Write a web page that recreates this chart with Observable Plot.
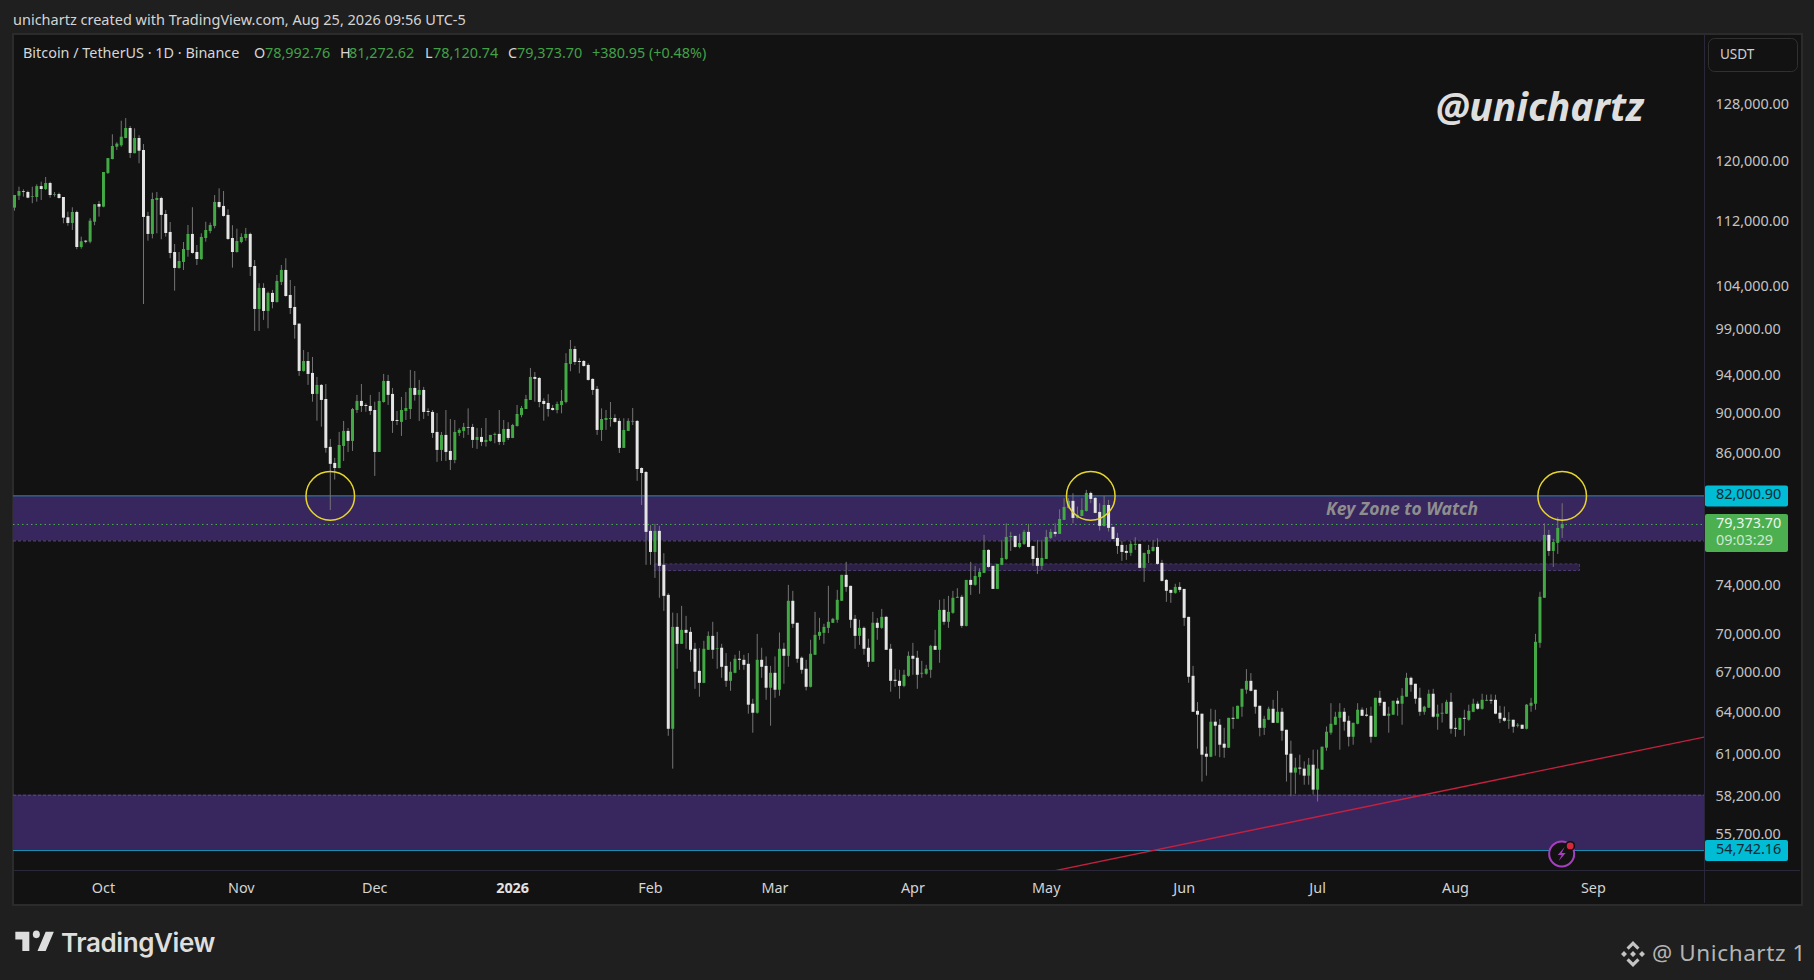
<!DOCTYPE html>
<html><head><meta charset="utf-8">
<script src="https://cdn.jsdelivr.net/npm/d3@7"></script>
<script src="https://cdn.jsdelivr.net/npm/@observablehq/plot@0.6"></script>
<style>
html,body{margin:0;padding:0;background:#1f1f1f;width:1814px;height:980px;overflow:hidden}
body{position:relative;font-family:"Noto Sans",sans-serif}
#panel{position:absolute;left:12px;top:33px;width:1787px;height:869px;background:#121212;border:2px solid #2b2b2b}
#chart{position:absolute;left:0;top:0}
.t{position:absolute;white-space:nowrap;line-height:1}
.leg{font-size:14.4px;color:#d6d6d6;top:46px}
.g{color:#43a047}
</style></head><body>
<div id="panel"></div>
<div class="t" style="left:13px;top:12px;font-size:14.5px;color:#d4d4d4">unichartz created with TradingView.com, Aug 25, 2026 09:56 UTC-5</div>
<div class="t leg" style="left:23px">Bitcoin / TetherUS · 1D · Binance</div>
<div class="t leg" style="left:254px">O</div><div class="t leg g" style="left:265px">78,992.76</div>
<div class="t leg" style="left:340px">H</div><div class="t leg g" style="left:349px">81,272.62</div>
<div class="t leg" style="left:425px">L</div><div class="t leg g" style="left:433px">78,120.74</div>
<div class="t leg" style="left:508px">C</div><div class="t leg g" style="left:517px">79,373.70</div>
<div class="t leg g" style="left:592px">+380.95 (+0.48%)</div>
<div id="chart"></div>
<svg style="position:absolute;left:13px;top:924px" width="42" height="36" viewBox="0 0 36 28" preserveAspectRatio="none"><path fill="#dedede" d="M14 6H2v6h6v9h6V6Zm14 15h-7l7-15h7l-7 15Z"/><circle fill="#dedede" cx="20" cy="8" r="3"/></svg>
<div class="t" style="left:61px;top:930px;font-family:Inter,sans-serif;font-weight:600;font-size:26px;letter-spacing:-0.4px;color:#dedede">TradingView</div>
<svg style="position:absolute;left:1619px;top:940px" width="28" height="28" viewBox="0 0 28 28" fill="#c4c4c4"><path d="M14 11l3 3-3 3-3-3zM5 11l3 3-3 3-3-3zM23 11l3 3-3 3-3-3zM14 1l6.5 6.5-2.2 2.2L14 5.4 9.7 9.700l-2.200-2.200zM14 27l-6.500-6.500 2.200-2.200L14 22.600l4.300-4.300 2.200 2.200z"/></svg>
<div class="t" style="left:1652px;top:942px;font-size:22.5px;letter-spacing:0.6px;color:#b4b4b4">@ Unichartz 1</div>
<script>
const startDay = Date.UTC(2025, 8, 11);
const day = 86400000;
const opens = [113.82,115.38,116.0,115.87,115.21,115.21,116.65,116.26,117.06,115.51,
115.6,115.21,112.58,111.85,113.26,108.83,109.61,109.49,112.01,114.3,
113.95,118.41,120.3,122.0,122.2,123.22,124.63,121.1,123.22,121.55,
112.75,110.46,114.82,115.08,113.0,110.71,108.21,106.26,106.99,108.46,
110.46,108.21,107.35,109.95,110.83,111.47,114.56,114.04,112.88,109.95,
108.21,109.45,109.95,110.46,106.5,101.41,103.87,101.18,103.28,102.22,
104.58,106.02,103.04,101.64,99.73,94.49,95.57,94.28,92.05,93.0,
91.52,86.66,85.09,84.6,86.75,88.25,87.25,90.38,91.32,90.9,
90.8,90.38,86.16,91.21,93.42,92.05,89.36,89.16,90.28,90.48,
92.68,91.95,92.47,90.28,90.18,88.15,86.36,87.85,86.26,85.38,
88.05,88.25,88.65,88.65,87.35,87.65,87.15,87.25,87.85,87.95,
87.15,88.45,87.55,88.75,89.87,90.48,91.42,93.85,93.74,91.32,
91.11,90.59,90.38,90.9,91.21,95.25,96.89,95.57,95.57,95.14,
93.64,92.58,88.35,89.36,89.46,89.56,89.26,86.56,88.25,89.19,
89.26,84.6,84.22,78.75,76.88,78.75,75.76,73.21,62.85,70.59,
69.24,70.35,70.19,68.85,67.14,66.23,68.77,69.87,68.85,68.93,
67.52,66.38,66.99,68.07,67.99,67.68,64.67,64.01,67.99,67.52,
65.86,66.99,65.71,68.85,68.3,72.72,70.92,68.15,67.3,65.93,
68.38,69.87,70.11,70.51,70.92,71.16,72.72,74.9,73.97,71.24,
69.87,70.51,68.93,67.84,70.92,70.51,71.4,68.85,66.46,66.38,
66.0,66.76,68.3,68.15,66.92,66.92,67.22,69.08,68.77,71.97,
71.0,71.73,72.97,73.05,70.67,74.47,74.05,74.72,75.07,77.06,
75.67,73.71,75.76,76.27,78.21,78.3,77.32,77.59,78.66,77.41,
76.36,75.67,76.27,78.12,78.66,78.48,79.74,80.84,81.49,79.92,
80.1,80.56,82.23,81.77,80.47,79.2,81.11,79.11,78.12,77.5,
76.97,76.8,77.5,77.59,75.5,76.71,76.97,77.32,75.93,74.47,
73.63,73.38,73.88,73.71,71.4,66.76,64.15,63.94,61.09,60.88,
63.36,63.14,61.79,61.51,63.64,63.57,64.45,65.71,66.38,65.71,
64.52,62.92,63.5,64.3,63.28,64.08,62.78,61.09,59.79,60.13,
60.06,59.58,60.33,58.64,59.99,61.51,62.57,63.14,63.64,64.08,
63.43,62.28,63.21,64.23,63.87,63.79,62.28,65.11,64.81,63.79,
63.87,64.89,64.67,65.19,66.61,66.16,65.11,64.08,64.38,65.41,
63.72,63.94,63.94,64.81,62.92,62.78,63.64,63.5,64.08,64.67,
64.3,64.89,64.96,64.96,64.01,63.64,63.43,63.5,63.07,63.14,
62.85,64.52,64.67,69.32,72.97,78.39,76.97,77.68,78.99];
const highs = [115.47,116.57,116.22,116.04,116.57,116.88,117.24,117.87,117.24,115.87,
115.78,115.21,113.3,113.87,113.43,110.12,109.7,112.45,114.26,114.69,
118.54,120.44,123.74,122.62,125.67,126.05,124.92,124.59,123.6,122.38,
113.28,115.78,115.87,115.25,113.52,111.97,109.2,108.21,109.45,111.59,
113.87,109.08,110.54,112.01,111.9,115.47,116.35,116.0,113.61,111.56,
111.12,110.54,111.22,110.62,107.23,104.43,104.43,103.43,103.63,105.42,
106.62,107.44,104.82,104.1,99.73,96.78,96.56,96.01,93.85,93.1,
93.1,87.45,85.58,88.15,89.26,88.55,90.59,91.95,93.1,91.07,
91.95,91.24,92.26,94.17,94.07,92.68,90.28,91.73,92.26,94.6,
94.49,93.53,92.79,90.55,90.38,90.07,88.15,90.38,89.46,89.36,
88.52,89.06,90.55,88.96,88.55,88.55,89.56,87.85,88.08,90.38,
89.36,89.13,88.96,90.9,90.8,91.95,94.82,94.38,93.85,91.59,
92.02,90.9,91.24,92.47,96.42,97.89,97.22,95.86,95.68,95.32,
93.7,92.89,90.55,90.38,91.21,89.94,89.53,89.53,89.53,90.59,
89.36,84.67,84.29,79.29,79.38,79.2,76.77,73.35,71.75,71.7,
72.3,71.48,70.57,69.32,68.9,69.48,70.22,71.0,70.19,69.24,
68.51,67.84,68.38,68.69,68.38,68.51,65.04,70.03,68.93,68.25,
67.52,68.25,70.14,69.32,74.05,73.55,70.92,68.25,67.99,69.56,
71.81,71.32,70.84,73.97,71.32,73.63,74.9,76.02,73.97,71.56,
71.16,70.62,69.64,71.81,71.3,72.05,71.48,69.24,67.3,67.22,
67.22,68.64,69.32,68.69,67.91,67.6,69.16,70.35,72.8,72.88,
73.13,73.55,73.77,73.21,74.47,76.02,75.67,75.47,78.39,77.12,
75.67,75.84,77.94,79.43,78.66,78.3,78.48,78.84,79.38,77.41,
77.94,77.94,78.84,78.93,79.43,80.71,81.74,81.74,82.2,80.96,
81.74,82.51,82.35,81.83,81.27,81.95,81.58,79.11,78.57,77.88,
77.5,77.85,78.18,77.59,76.8,77.5,77.94,78.09,76.19,74.55,
73.63,74.14,74.28,73.71,71.4,67.52,64.79,63.94,61.58,64.3,
64.23,63.55,62.92,63.64,64.45,64.52,65.78,67.27,66.97,65.71,
64.52,63.79,64.45,64.96,65.63,64.36,62.78,62.0,60.81,61.02,
60.56,60.79,61.37,61.37,61.58,63.02,64.71,64.08,64.71,64.36,
63.79,63.28,64.71,64.4,64.36,64.45,65.11,65.63,64.81,64.45,
64.89,65.11,65.83,66.99,66.7,66.16,65.86,64.52,65.71,65.78,
64.6,64.71,64.96,65.48,63.62,63.64,64.23,64.6,65.04,64.84,
65.41,65.34,65.36,65.34,64.52,64.47,64.05,63.5,63.26,63.14,
64.65,65.11,70.03,73.47,79.43,78.84,78.03,79.98,81.27];
const lows = [113.43,114.82,115.25,115.04,114.39,114.6,114.82,116.13,115.12,115.25,
114.99,111.81,111.5,110.96,108.55,108.62,109.29,109.29,111.56,112.66,
113.87,118.27,120.26,121.55,122.0,123.18,120.44,121.1,119.72,101.98,
109.61,109.9,110.54,109.79,110.12,107.44,103.55,106.18,106.02,107.63,
108.0,106.62,107.23,109.49,110.54,111.17,113.74,112.66,109.7,106.3,
108.13,109.29,109.61,105.3,98.9,98.9,100.15,99.2,101.48,102.14,
104.22,102.84,100.83,98.03,93.96,94.42,93.0,91.24,89.29,88.68,
86.09,80.65,83.49,84.57,85.28,86.16,86.26,90.07,90.18,90.2,
89.87,83.84,86.16,91.14,90.9,88.05,88.85,87.75,89.36,89.46,
91.35,89.26,89.46,89.77,87.55,85.19,85.28,85.28,84.41,85.06,
87.75,87.55,87.85,86.56,86.46,86.75,86.69,87.18,87.02,86.85,
86.85,87.35,87.52,88.68,89.63,90.48,91.42,91.24,90.66,89.29,
89.7,90.31,90.04,90.04,91.07,94.46,95.14,94.24,94.96,93.46,
91.95,87.85,87.25,88.35,88.68,89.09,86.06,86.56,88.25,88.85,
83.37,81.11,75.76,75.76,74.64,72.97,71.89,62.35,60.06,67.3,
69.24,68.85,67.84,65.78,65.19,66.2,68.77,68.07,67.3,66.61,
65.93,65.63,66.95,67.22,67.22,63.94,62.57,63.94,66.61,64.96,
63.07,65.11,65.26,66.16,67.45,70.51,67.76,66.92,65.66,65.88,
68.38,69.56,69.24,70.09,70.9,70.92,72.72,73.47,70.51,68.85,
69.16,68.38,67.43,67.84,69.56,70.43,68.77,65.56,65.93,65.04,
65.9,66.68,66.84,65.78,66.61,66.84,66.61,68.77,67.76,70.76,
70.51,71.65,72.95,70.51,70.62,73.21,73.97,73.3,75.05,75.5,
73.71,73.71,75.73,76.19,76.97,77.26,77.2,77.5,77.29,75.67,
74.98,75.33,76.27,78.03,78.24,78.48,79.74,80.78,79.43,79.86,
80.1,80.5,81.27,80.35,78.78,79.14,78.69,78.0,76.71,76.1,
76.19,76.54,77.06,75.47,74.3,75.91,76.91,75.76,74.33,72.63,
72.55,73.3,73.44,70.67,66.23,64.08,61.44,59.18,59.58,60.85,
60.95,60.85,60.81,61.49,62.85,63.57,63.72,65.41,65.58,63.94,
62.31,62.41,63.47,63.26,63.26,62.0,59.18,58.2,58.36,59.65,
58.97,58.97,58.31,57.85,59.99,61.3,62.43,63.12,61.37,62.71,
61.6,61.72,63.17,63.77,63.72,61.86,62.26,64.52,63.79,62.57,
63.85,63.79,63.14,65.19,65.56,64.67,63.79,63.87,64.36,63.64,
62.78,63.3,63.92,62.5,62.28,62.76,62.35,63.43,64.05,64.23,
64.23,64.86,64.67,63.9,63.26,63.35,62.85,62.57,62.95,62.85,
62.8,64.08,64.23,68.93,72.97,76.54,75.58,76.71,78.12];
const closes = [115.47,116.0,115.91,115.12,115.3,116.65,116.26,117.06,115.47,115.6,
115.08,112.53,111.85,113.26,108.83,109.54,109.49,112.14,114.26,113.95,
118.54,120.44,122.1,122.43,123.4,124.63,121.14,123.22,121.45,112.62,
110.46,114.95,115.08,112.88,110.58,108.09,106.26,107.11,108.58,110.46,
108.09,107.35,110.08,110.96,111.59,114.56,113.91,112.75,109.83,108.21,
109.58,110.08,110.46,106.38,101.41,103.87,101.18,103.28,102.22,104.7,
106.02,102.92,101.52,99.58,94.49,95.57,94.17,92.05,93.0,91.42,
86.56,85.0,84.6,86.85,88.25,87.25,90.48,91.32,90.8,90.8,
90.28,86.16,91.32,93.42,91.95,89.26,89.26,90.38,90.59,92.68,
91.95,92.47,90.18,90.18,88.05,86.36,87.85,86.16,85.38,88.15,
88.35,88.65,88.58,87.35,87.65,87.15,87.35,87.85,87.95,87.15,
88.45,87.55,88.85,89.97,90.59,91.52,93.85,93.64,91.21,91.0,
90.48,90.38,91.0,91.32,95.35,96.89,95.46,95.46,95.03,93.53,
92.47,88.35,89.46,89.56,89.56,89.16,86.56,88.35,89.26,89.26,
84.5,84.12,78.66,76.88,78.75,75.67,73.13,62.85,70.59,69.24,
70.35,70.11,68.77,67.07,66.23,68.85,69.87,68.77,68.9,67.45,
66.38,67.07,68.07,67.99,67.6,64.6,64.01,67.99,67.45,65.86,
66.99,65.71,68.85,68.3,72.72,70.84,68.07,67.22,65.93,68.46,
69.95,70.19,70.59,71.0,71.24,72.8,74.9,73.88,71.16,69.87,
70.51,68.85,67.84,70.92,70.51,71.4,68.77,66.38,66.38,66.0,
66.84,68.3,68.07,66.84,66.99,67.3,69.08,68.77,71.97,71.0,
71.81,72.97,73.05,70.67,74.47,74.05,74.81,75.16,77.06,75.58,
73.71,75.84,76.36,78.21,78.3,77.32,77.68,78.66,77.32,76.27,
75.67,76.36,78.21,78.66,78.48,79.83,80.93,81.49,79.92,80.2,
80.65,82.23,81.67,80.38,79.2,81.11,79.02,78.03,77.41,76.88,
76.8,77.59,77.59,75.5,76.8,77.06,77.32,75.84,74.39,73.55,
73.38,73.88,73.63,71.32,66.69,64.08,63.87,61.02,60.88,63.36,
63.07,61.72,61.51,63.64,63.57,64.52,65.78,66.38,65.63,64.45,
62.92,63.57,64.3,63.28,64.08,62.71,61.02,59.79,60.13,60.06,
59.58,60.33,58.64,60.06,61.58,62.64,63.21,63.72,64.08,63.36,
62.28,63.28,64.23,63.79,63.79,62.28,65.11,64.74,63.79,63.94,
64.89,64.67,65.26,66.61,66.08,65.04,64.08,64.45,65.41,63.72,
63.94,64.01,64.81,62.85,62.85,63.64,63.57,64.15,64.67,64.3,
64.96,64.96,64.89,63.94,63.57,63.43,63.5,63.0,63.14,62.85,
64.6,64.74,69.4,73.05,78.39,76.97,77.76,79.02,79.37];

const priceTicks = [128000,120000,112000,104000,99000,94000,90000,86000,74000,70000,67000,64000,61000,58200,55700];
const monthTicks = ["2025-10-01","2025-11-01","2025-12-01","2026-02-01","2026-03-01","2026-04-01","2026-05-01","2026-06-01","2026-07-01","2026-08-01","2026-09-01"];
const monthNames = ["Oct","Nov","Dec","Feb","Mar","Apr","May","Jun","Jul","Aug","Sep"];
const upperZone = [77900, 82000.9];
const lowerZone = [54742.16, 58300];
const thinZone = [75270, 75840];
const thinZoneDates = ["2026-02-02","2026-08-29"];
const lastPrice = 79373.70;
const circleDates = ["2025-11-21","2026-05-11","2026-08-25"];
const circlePrice = 82000.9;
const trendDates = ["2026-05-03","2026-09-26"];
const trendPrices = [53500, 62300];
const domainX = [new Date(startDay - 0.23*day), new Date("2026-09-26")];
const domainY = [53508, 138724];

const candles = opens.map((o,i)=>({date:new Date(startDay+i*day),o:o*1000,h:highs[i]*1000,l:lows[i]*1000,c:closes[i]*1000,up:closes[i]>=o}));
const FONT = '"Noto Sans",sans-serif';
const zoneFill = "#38265e", edgeBlue = "#2a86a6", edgePurple = "#5c4a86";

function tags(index, {y}) {
  const g = d3.create("svg:g").style("font-family", FONT).style("text-anchor","start");
  const tag = (price, h, fill, lines) => {
    const yc = y(price);
    g.append("rect").attr("x",1705).attr("y",yc-h[0]).attr("width",83).attr("height",h[1]).attr("rx",2).attr("fill",fill);
    lines.forEach(l => g.append("text").attr("x",1716).attr("y",yc+l.dy).attr("dominant-baseline","middle")
      .attr("font-size",14.4).attr("fill",l.color).text(l.text));
  };
  tag(82000.9,[10,21],"#00bcd4",[{text:"82,000.90",dy:0,color:"#0c2a33"}]);
  tag(54742.16,[10,21],"#00bcd4",[{text:"54,742.16",dy:0,color:"#0c2a33"}]);
  tag(lastPrice,[10,38],"#4caf50",[{text:"79,373.70",dy:0,color:"#eef6ee"},{text:"09:03:29",dy:17,color:"#cfe8cf"}]);
  g.append("rect").attr("x",1708.5).attr("y",38.5).attr("width",89).attr("height",33).attr("rx",6).attr("fill","#121212").attr("stroke","#303030");
  g.append("text").attr("x",1720).attr("y",55).attr("dominant-baseline","middle").attr("font-size",13.5).attr("fill","#d0d0d0").text("USDT");
  g.append("line").attr("x1",1704.5).attr("x2",1704.5).attr("y1",34).attr("y2",903).attr("stroke","#2a2738");
  g.append("line").attr("x1",13).attr("x2",1800).attr("y1",870.5).attr("y2",870.5).attr("stroke","#2a2738");
  return g.node();
}
function alertIcon(index, {x,y}) {
  const cx = x(new Date(circleDates[2])), cy = y(54500);
  const g = d3.create("svg:g").attr("transform",`translate(${cx},${cy})`);
  g.append("circle").attr("r",12.5).attr("fill","#121212").attr("stroke","#a63fbf").attr("stroke-width",2);
  g.append("path").attr("d","M3-7 L-4 1 L0 1 L-3 7 L4-1 L0-1 Z").attr("fill","#a63fbf");
  g.append("circle").attr("cx",8.5).attr("cy",-8).attr("r",5).attr("fill","#121212");
  g.append("circle").attr("cx",8.5).attr("cy",-8).attr("r",3.4).attr("fill","#d8283f");
  return g.node();
}

const chart = Plot.plot({
  width:1814, height:980, marginLeft:13, marginRight:110, marginTop:34, marginBottom:110,
  style:{background:"transparent", fontFamily:FONT},
  x:{type:"utc", domain:domainX, axis:null},
  y:{type:"log", domain:domainY, axis:null},
  marks:[
    Plot.rectY([0],{x1:()=>domainX[0],x2:()=>domainX[1],y1:()=>upperZone[0],y2:()=>upperZone[1],fill:zoneFill}),
    Plot.rectY([0],{x1:()=>domainX[0],x2:()=>domainX[1],y1:()=>lowerZone[0],y2:()=>lowerZone[1],fill:zoneFill}),
    Plot.rectY([0],{x1:()=>new Date(thinZoneDates[0]),x2:()=>new Date(thinZoneDates[1]),y1:()=>thinZone[0],y2:()=>thinZone[1],fill:"#2c2044",stroke:"#4a3a70",strokeWidth:1,strokeDasharray:"3 2"}),
    Plot.ruleY([upperZone[1]],{stroke:edgeBlue}),
    Plot.ruleY([upperZone[0]],{stroke:edgePurple,strokeDasharray:"3 2"}),
    Plot.ruleY([lowerZone[1]],{stroke:edgePurple,strokeDasharray:"3 2"}),
    Plot.ruleY([lowerZone[0]],{stroke:"#1c8fb0"}),
    Plot.ruleY([lastPrice],{stroke:"#4caf50",strokeDasharray:"1.5 3"}),
    Plot.ruleX(candles,{x:"date",y1:"l",y2:"h",stroke:"#747474",strokeWidth:1}),
    Plot.ruleX(candles,{filter:d=>d.up,x:"date",y1:"o",y2:"c",stroke:"#43a945",strokeWidth:3}),
    Plot.ruleX(candles,{filter:d=>!d.up,x:"date",y1:"o",y2:"c",stroke:"#e4e4e4",strokeWidth:3}),
    Plot.line(trendDates.map((d,i)=>({d:new Date(d),p:trendPrices[i]})),{x:"d",y:"p",stroke:"#c4213f",strokeWidth:1.4,clip:true}),
    Plot.dot(circleDates.map(d=>({d:new Date(d)})),{x:"d",y:()=>circlePrice,r:24.3,stroke:"#e6d62c",strokeWidth:1.5,fill:"none"}),
    Plot.text([0],{x:()=>new Date("2026-08-20"),y:()=>127500,text:()=>"@unichartz",fill:"#dedede",fontSize:39,fontWeight:700,fontStyle:"italic",fontFamily:FONT}),
    Plot.text([0],{x:()=>new Date("2026-07-20"),y:()=>80740,text:()=>"Key Zone to Watch",fill:"#8e8e8e",fontSize:17.5,fontWeight:700,fontStyle:"italic",fontFamily:FONT}),
    Plot.axisY({anchor:"right",ticks:priceTicks,tickSize:0,tickPadding:11,dy:-0.7,label:null,fontSize:14.4,color:"#c4c4c4",tickFormat:d=>d3.format(",.2f")(d)}),
    Plot.axisX({anchor:"bottom",ticks:monthTicks.map(d=>new Date(d)),tickSize:0,tickPadding:12,label:null,fontSize:14.4,color:"#d4d4d4",tickFormat:d=>monthNames[monthTicks.indexOf(d.toISOString().slice(0,10))]}),
    Plot.axisX({anchor:"bottom",ticks:[new Date("2026-01-01")],tickSize:0,tickPadding:12,label:null,fontSize:14.4,fontWeight:700,color:"#e2e2e2",tickFormat:()=>"2026"}),
    tags,
    alertIcon
  ]
});
document.getElementById("chart").append(chart);
</script>
</body></html>
